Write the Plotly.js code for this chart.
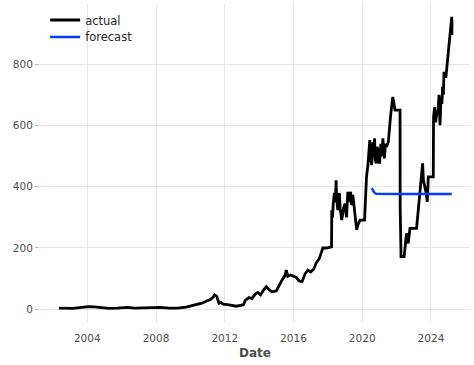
<!DOCTYPE html>
<html>
<head>
<meta charset="utf-8">
<script src="https://cdn.plot.ly/plotly-3.0.1.min.js"></script>
<style>html,body{margin:0;padding:0;background:#fff}#chart{width:474px;height:365px}</style>
</head>
<body>
<div id="chart"></div>
<script>
const actualDates = ['2002-05-08','2002-10-01','2003-03-01','2003-09-01','2004-02-01','2004-06-01','2004-11-01','2005-04-01','2005-10-01','2006-05-01','2006-10-01','2007-04-01','2007-10-01','2008-04-01','2008-10-01','2009-04-01','2009-10-01','2010-03-01','2010-06-01','2010-09-01','2010-12-01','2011-03-01','2011-05-01','2011-06-01','2011-07-15','2011-09-01','2011-10-15','2011-12-01','2012-03-01','2012-06-01','2012-09-01','2012-12-01','2013-02-01','2013-03-15','2013-06-01','2013-08-01','2013-10-01','2013-12-01','2014-02-01','2014-04-01','2014-06-01','2014-08-01','2014-10-01','2015-01-01','2015-03-01','2015-05-01','2015-07-01','2015-08-01','2015-09-01','2015-11-01','2016-01-01','2016-03-01','2016-05-01','2016-07-01','2016-09-01','2016-11-01','2017-01-01','2017-03-01','2017-05-01','2017-07-01','2017-08-15','2017-09-15','2017-12-01','2018-03-20','2018-03-25','2018-04-10','2018-04-25','2018-05-20','2018-06-10','2018-06-25','2018-07-05','2018-07-15','2018-08-01','2018-08-15','2018-09-01','2018-09-20','2018-10-22','2018-12-01','2019-01-01','2019-02-01','2019-03-01','2019-03-20','2019-04-01','2019-05-01','2019-05-20','2019-06-15','2019-07-20','2019-09-05','2019-10-01','2019-11-15','2020-02-20','2020-03-10','2020-04-01','2020-05-01','2020-05-20','2020-06-10','2020-06-25','2020-07-05','2020-07-20','2020-08-01','2020-08-15','2020-09-05','2020-09-20','2020-10-01','2020-10-25','2020-11-15','2020-12-01','2020-12-20','2021-01-05','2021-02-01','2021-03-01','2021-03-15','2021-04-15','2021-05-10','2021-06-01','2021-07-10','2021-07-25','2021-08-15','2021-09-01','2021-09-20','2021-10-12','2021-11-28','2022-03-15','2022-03-18','2022-03-25','2022-04-05','2022-06-10','2022-07-30','2022-09-05','2022-10-12','2023-03-01','2023-04-10','2023-05-01','2023-05-25','2023-06-15','2023-07-08','2023-07-25','2023-08-25','2023-09-20','2023-10-15','2023-11-05','2024-02-20','2024-02-25','2024-03-20','2024-04-10','2024-05-05','2024-06-01','2024-06-20','2024-07-12','2024-08-01','2024-08-20','2024-09-05','2024-09-20','2024-10-05','2024-10-27','2024-11-15','2025-03-18','2025-03-20','2025-03-24','2025-03-28'];
const actualValues = [4,3,3,6,9,8,5,3,4,6,4,5,4,6,4,4,7,12,17,20,26,32,40,47,42,20,22,17,15,12,10,13,15,30,38,35,48,55,47,62,74,64,57,60,80,95,110,128,108,112,108,104,92,90,115,128,122,130,152,165,185,200,200,204,323,300,345,380,350,421,360,340,324,365,379,330,291,330,345,300,383,350,370,383,340,373,320,259,275,291,291,380,432,470,510,552,480,540,470,530,545,500,558,490,476,530,520,480,476,540,500,558,492,540,530,547,590,612,640,660,693,650,650,335,300,172,172,248,215,264,264,335,380,400,440,476,420,400,380,351,432,432,628,660,610,639,650,700,601,693,670,726,700,775,759,759,954,895,940];

const forecastDates = ['2020-07-20','2020-08-20','2020-09-20','2020-10-25','2021-06-01','2022-06-01','2023-06-01','2024-06-01','2025-03-18'];
const forecastValues = [395,386,380,377,376,376,376,376,376];

const traces = [
  {x: actualDates, y: actualValues, type: 'scatter', mode: 'lines', name: 'actual',
   line: {color: '#000000', width: 2.8}, legend: 'legend'},
  {x: forecastDates, y: forecastValues, type: 'scatter', mode: 'lines', name: 'forecast',
   line: {color: '#003DFD', width: 2.4}, legend: 'legend2'}
];

const legendBase = {x: 0.012, xanchor: 'left', yanchor: 'middle', bgcolor: 'rgba(0,0,0,0)',
                    font: {size: 11.5, color: '#262626'}};

const layout = {
  width: 474, height: 365,
  margin: {l: 40, r: 4, t: 4, b: 42},
  paper_bgcolor: '#ffffff', plot_bgcolor: '#ffffff',
  font: {family: 'DejaVu Sans', color: '#4d4d4d', size: 10.5},
  showlegend: true,
  legend: Object.assign({}, legendBase, {y: 0.9498}),
  legend2: Object.assign({}, legendBase, {y: 0.8966}),
  xaxis: {type: 'date', range: ['2001-04-01', '2026-04-10'],
          tickvals: ['2004-01-01','2008-01-01','2012-01-01','2016-01-01','2020-01-01','2024-01-01'],
          ticktext: ['2004','2008','2012','2016','2020','2024'],
          showgrid: true, gridcolor: '#e6e6e6', gridwidth: 1, zeroline: false,
          showline: false, ticks: '', ticklabelstandoff: 7,
          title: {text: '<b>Date</b>', font: {size: 12, color: '#4d4d4d'}, standoff: 6}},
  yaxis: {range: [-44.7, 996], tickvals: [0,200,400,600,800],
          showgrid: true, gridcolor: '#e6e6e6', gridwidth: 1, zeroline: false,
          showline: false, ticks: 'outside', ticklen: 4, tickcolor: '#bbbbbb'}
};

Plotly.newPlot('chart', traces, layout, {displayModeBar: false, staticPlot: true});
</script>
</body>
</html>
